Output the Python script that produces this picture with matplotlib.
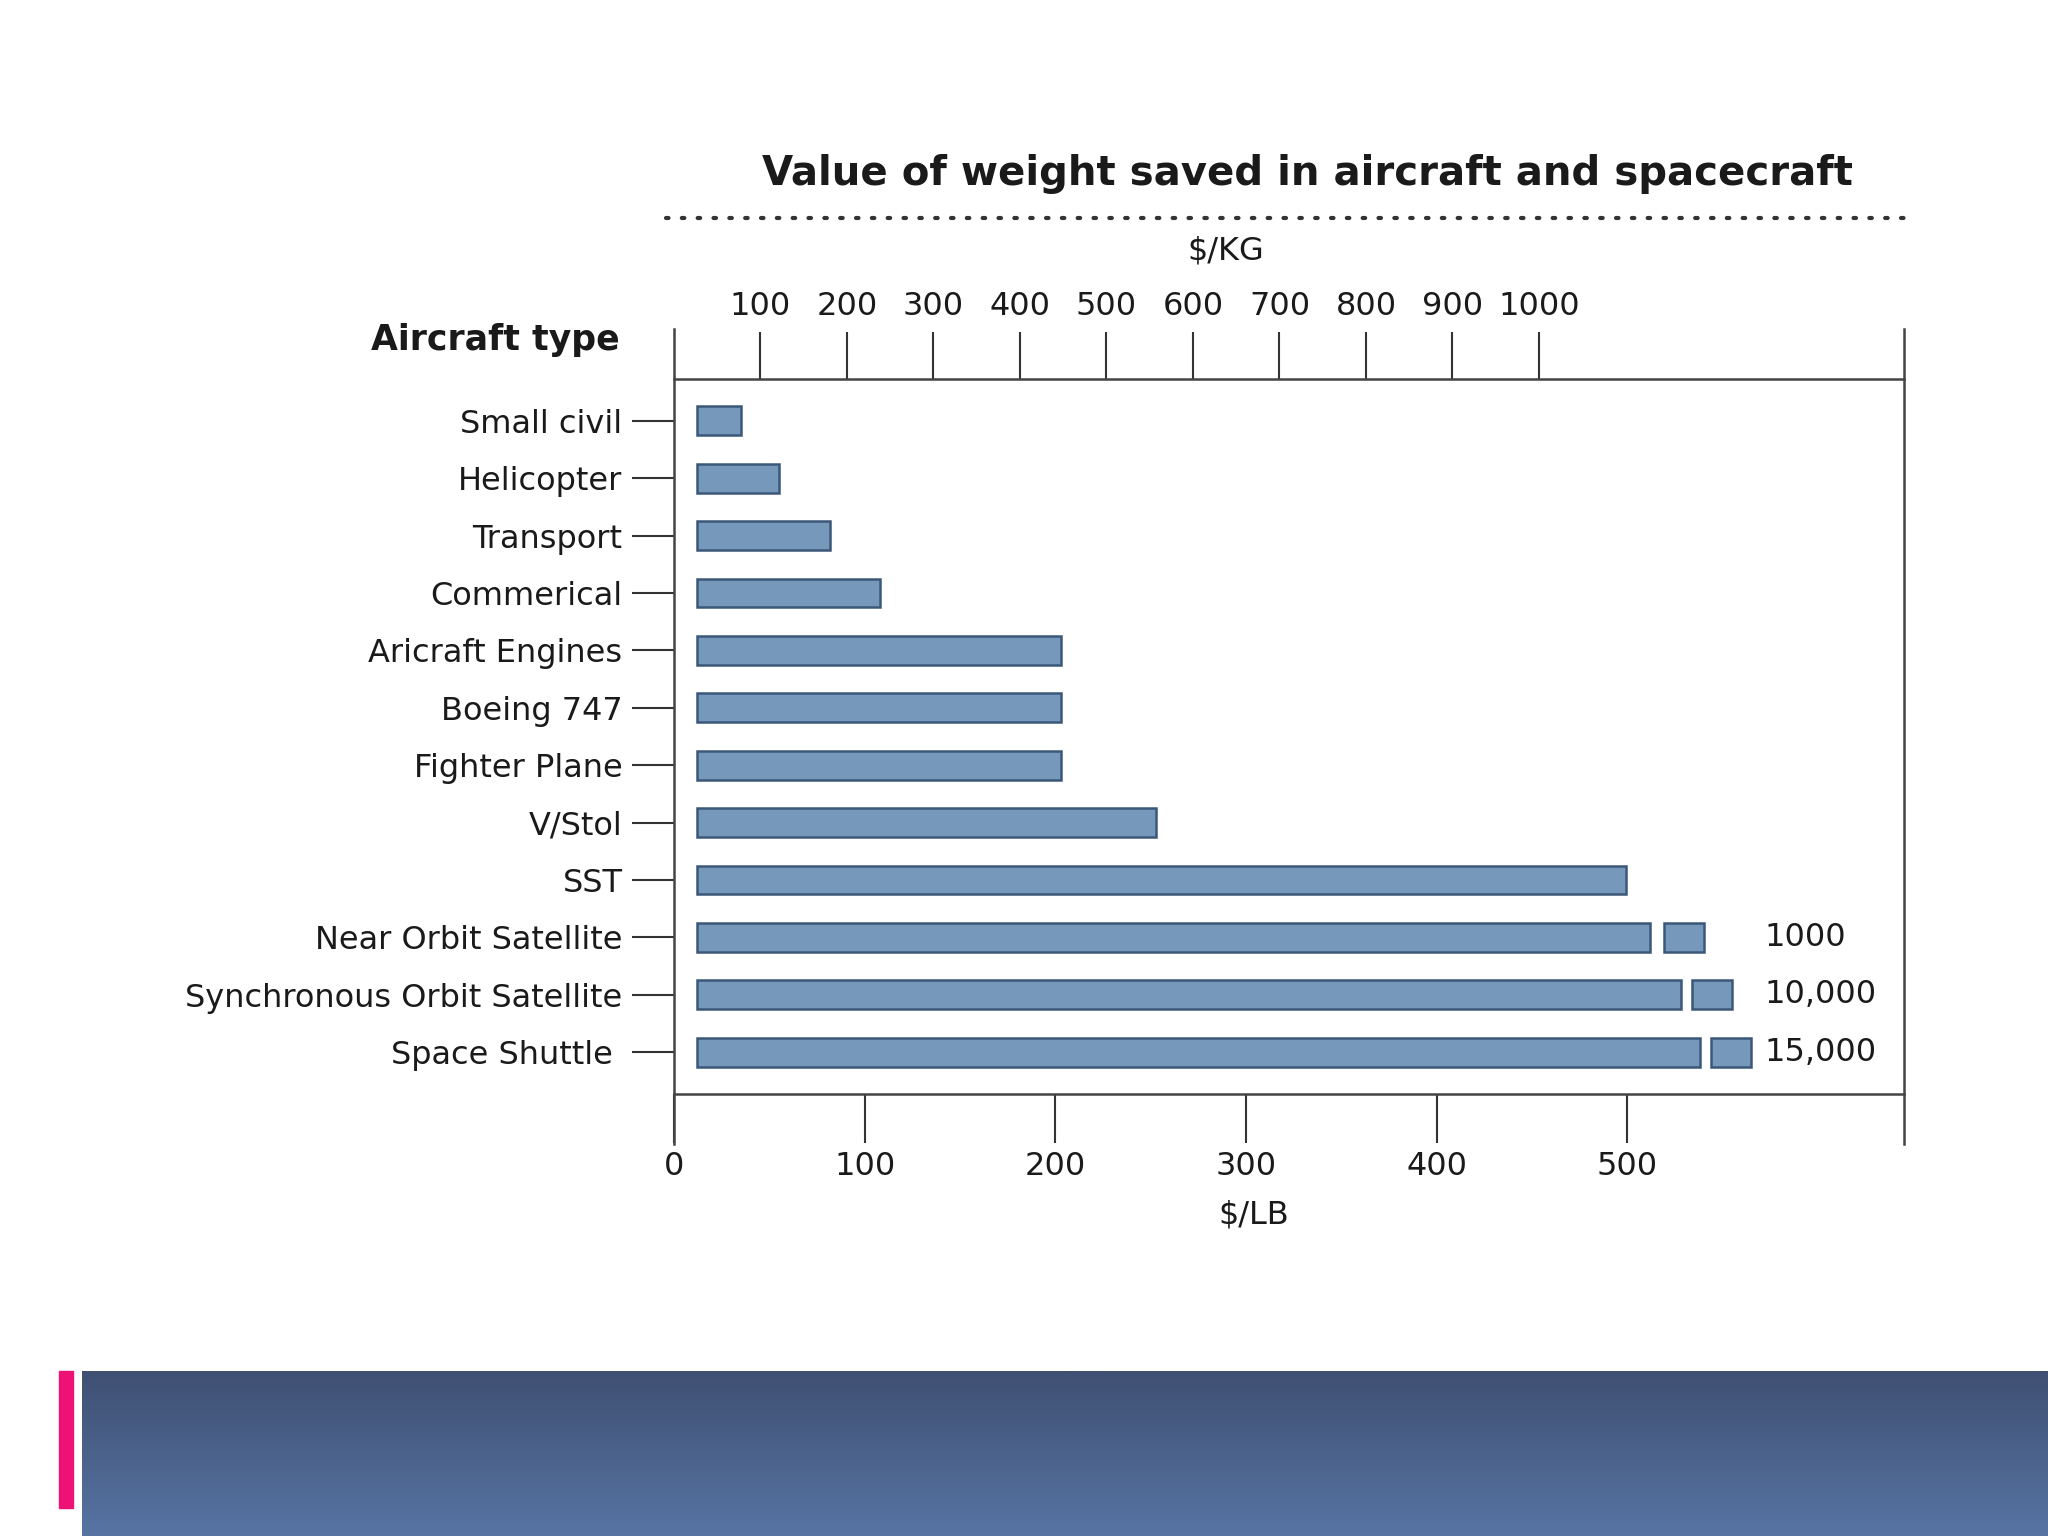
import matplotlib
matplotlib.use("Agg")
import matplotlib.pyplot as plt
import numpy as np
from matplotlib.patches import Rectangle

plt.rcParams['font.family'] = ['DejaVu Sans']

# данные ($/lb)
types = ["Small civil", "Helicopter", "Transport", "Commerical", "Aricraft Engines",
         "Boeing 747", "Fighter Plane", "V/Stol", "SST", "Near Orbit Satellite",
         "Synchronous Orbit Satellite", "Space Shuttle "]
bar_start = 12
bar_end = [35, 55, 82, 108, 203, 203, 203, 253, 499, 512, 528, 538]

# "разорванные" столбцы у спутников и шаттла
broken_rows = [9, 10, 11]
broken_from = [519, 534, 544]
broken_to = [540, 555, 565]
broken_labels = ["1000", "10,000", "15,000"]

lb_ticks = [0, 100, 200, 300, 400, 500]
kg_ticks = [100, 200, 300, 400, 500, 600, 700, 800, 900, 1000]
LB_PER_KG = 2.2046

bar_color = "#7698bb"
edge_color = "#3b5878"
text_color = "#1a1a1a"
FS = 23

fig = plt.figure(figsize=(20.48, 15.36), dpi=100)
ax = fig.add_axes([674 / 2048, 1 - 1094 / 1536, (1904 - 674) / 2048, (1094 - 379) / 1536])

y = np.arange(len(types))
ax.barh(y, np.array(bar_end) - bar_start, left=bar_start, height=0.5,
        color=bar_color, edgecolor=edge_color, linewidth=1.8)
ax.barh(broken_rows, np.array(broken_to) - np.array(broken_from), left=broken_from,
        height=0.5, color=bar_color, edgecolor=edge_color, linewidth=1.8)
for r, lab in zip(broken_rows, broken_labels):
    ax.text(572, r, lab, ha="left", va="center", fontsize=FS, color=text_color)

ax.set_xlim(0, 645)
ax.set_ylim(len(types) - 1 + 0.727, -0.727)

ax.set_yticks(y)
ax.set_yticklabels(types, fontsize=FS, color=text_color)
ax.tick_params(axis="y", length=30, width=1.5, pad=7, color="#333333")

ax.set_xticks(lb_ticks)
ax.set_xticklabels([str(t) for t in lb_ticks], fontsize=FS, color=text_color)
ax.tick_params(axis="x", length=35, width=1.5, pad=6, color="#333333")

for s in ax.spines.values():
    s.set_color("#444444")
    s.set_linewidth(1.8)
ax.spines["left"].set_visible(False)
ax.spines["right"].set_visible(False)
# боковые линии выходят за пределы рамки
for xv in (0, 1):
    ax.plot([xv, xv], [-0.07, 1.07], transform=ax.transAxes, color="#444444",
            lw=1.8, clip_on=False)

# верхняя ось в $/кг
sec = ax.secondary_xaxis("top", functions=(lambda v: v * LB_PER_KG, lambda v: v / LB_PER_KG))
sec.set_xticks(kg_ticks)
sec.set_xticklabels([str(t) for t in kg_ticks], fontsize=FS, color=text_color)
sec.tick_params(axis="x", length=34, width=1.5, pad=7, color="#333333")
sec.spines["top"].set_visible(False)

fig.text(1254 / 2048, 1 - 1215 / 1536, "$/LB", ha="center", va="center",
         fontsize=FS, color=text_color)
fig.text(1226 / 2048, 1 - 251 / 1536, "$/KG", ha="center", va="center",
         fontsize=FS, color=text_color)
fig.text(620 / 2048, 1 - 340 / 1536, "Aircraft type", ha="right", va="center",
         fontsize=25, fontweight="bold", color=text_color)
fig.text(1307 / 2048, 1 - 174 / 1536, "Value of weight saved in aircraft and spacecraft",
         ha="center", va="center", fontsize=29, fontweight="bold", color=text_color)

# пунктир под заголовком
fig.add_artist(plt.Line2D([666 / 2048, 1907 / 2048], [1 - 218 / 1536, 1 - 218 / 1536],
                          color="#333333", lw=3, linestyle=(0, (0.6, 3.2)),
                          dash_capstyle="round"))

# нижняя полоса с градиентом
band = fig.add_axes([82 / 2048, 0, 1 - 82 / 2048, 165 / 1536])
band.set_axis_off()
grad = np.linspace(0, 1, 100).reshape(-1, 1)
top_c = np.array([0x3f, 0x50, 0x73]) / 255
bot_c = np.array([0x57, 0x74, 0xa3]) / 255
img = top_c + (bot_c - top_c) * grad[:, :, None]
band.imshow(img, aspect="auto", extent=[0, 1, 0, 1])
fig.patches.append(Rectangle((59 / 2048, 1 - 1508 / 1536), 14 / 2048, 137 / 1536,
                             transform=fig.transFigure, color="#ee1277"))

fig.savefig("out.png", dpi=100)
